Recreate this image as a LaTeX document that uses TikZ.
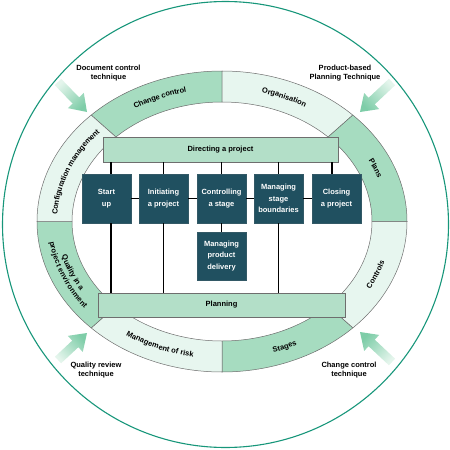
\documentclass[tikz,border=0pt]{standalone}
\usepackage{fontspec}
\setmainfont{Liberation Sans}
\usetikzlibrary{decorations.text,calc,shadows}

\definecolor{ringmed}{HTML}{A6DCC0}
\definecolor{ringlight}{HTML}{E7F6EF}
\definecolor{boxgreen}{HTML}{B3DFC8}
\definecolor{darkbox}{HTML}{205060}
\definecolor{circteal}{HTML}{17967A}
\definecolor{arrdark}{HTML}{7ECDA8}
\definecolor{arrlight}{HTML}{E4F5EC}
\definecolor{edgegray}{HTML}{6E6E6E}

\newcommand\lblfont{\bfseries\fontsize{7.5}{9}\selectfont}
\newcommand\boxfont{\bfseries\fontsize{7.5}{11.7}\selectfont}

\newcommand\ringseg[3]{%
  \draw[ringedge, fill=#3] (#1:185pt and 150.5pt)
    arc[start angle=#1, end angle=#2, x radius=185pt, y radius=150.5pt]
    -- (#2:150pt and 119.5pt)
    arc[start angle=#2, end angle=#1, x radius=150pt, y radius=119.5pt] -- cycle;}

\newcommand\ringtext[4]{%
  \path[decorate, decoration={text along path, text={|\lblfont|#4},
        text align=center, raise=#3}]
    (#1:167.5pt and 135pt)
    arc[start angle=#1, end angle=#2, x radius=167.5pt, y radius=135pt];}

\newcommand\techarrow[2]{%
  \coordinate (h#1) at ($(t#1)!16pt!(s#1)$);
  \shade[top color=arrdark, bottom color=arrlight, shading angle=#2]
    (t#1) -- ($(h#1)!11pt!90:(t#1)$) -- ($(h#1)!4.5pt!90:(t#1)$)
    -- ($(s#1)!4.5pt!90:(t#1)$) -- ($(s#1)!4.5pt!-90:(t#1)$)
    -- ($(h#1)!4.5pt!-90:(t#1)$) -- ($(h#1)!11pt!-90:(t#1)$) -- cycle;}

\tikzset{
  ringedge/.style={draw=edgegray, line width=0.5pt},
  greenbar/.style={draw=edgegray, fill=boxgreen, line width=0.5pt,
    font=\lblfont, inner sep=0pt,
    drop shadow={shadow xshift=1pt, shadow yshift=-1pt, opacity=0.3, fill=gray}},
  procbox/.style={draw=darkbox!80!gray, fill=darkbox, text=white, line width=0.4pt,
    font=\boxfont, align=center, inner sep=0pt,
    minimum width=49pt, minimum height=49pt},
  conn/.style={draw=black, line width=1.3pt},
  techlabel/.style={font=\lblfont, align=center, inner sep=0pt},
}

\begin{document}
\begin{tikzpicture}[x=1pt, y=1pt]
\useasboundingbox (0,0) rectangle (450,-450);

% outer circle
\draw[circteal, line width=1.1pt] (225.5,-224.5) circle[radius=223pt];

% ring
\begin{scope}[shift={(222,-221.5)}]
  \ringseg{90}{135}{ringmed}
  \ringseg{45}{90}{ringlight}
  \ringseg{0}{45}{ringmed}
  \ringseg{-45}{0}{ringlight}
  \ringseg{-90}{-45}{ringmed}
  \ringseg{-135}{-90}{ringlight}
  \ringseg{180}{225}{ringmed}
  \ringseg{135}{180}{ringlight}

  \ringtext{135}{90}{-2.6pt}{Change control}
  \ringtext{90}{45}{-2.6pt}{Organisation}
  \ringtext{45}{0}{-2.6pt}{Plans}
  \ringtext{-45}{0}{-2.6pt}{Controls}
  \ringtext{-90}{-45}{-2.6pt}{Stages}
  \ringtext{-135}{-90}{-2.6pt}{Management of risk}
  \ringtext{180}{135}{-2.6pt}{Configuration management}
  \ringtext{180}{225}{1.8pt}{Quality in a}
  \ringtext{180}{225}{-6.8pt}{project environment}
\end{scope}

% technique arrows
\coordinate (sTL) at (58,-82);  \coordinate (tTL) at (87,-112);
\coordinate (sTR) at (392,-82); \coordinate (tTR) at (360,-112);
\coordinate (sBL) at (58,-360); \coordinate (tBL) at (87,-333);
\coordinate (sBR) at (392,-362);\coordinate (tBR) at (360,-332);
\techarrow{TL}{-136}
\techarrow{TR}{133}
\techarrow{BL}{-47}
\techarrow{BR}{47}

% technique labels
\node[techlabel] (doc) at (108.5,-73.5) {Document control\\technique};
\node[techlabel] (pbp) at (345,-73.5) {Product-based\\Planning Technique};
\node[techlabel] (qrt) at (96,-370.5) {Quality review\\technique};
\node[techlabel] (cct) at (349,-370.5) {Change control\\technique};

% process boxes
\node[greenbar, minimum width=235pt, minimum height=25pt] (dir) at (220.5,-149.5) {Directing a project};
\node[greenbar, minimum width=247pt, minimum height=24pt] (plan) at (221.5,-305) {Planning};

\node[procbox] (su)  at (106.5,-198.5) {Start\\up};
\node[procbox] (ini) at (163.5,-198.5) {Initiating\\a project};
\node[procbox] (ctl) at (221.5,-198.5) {Controlling\\a stage};
\node[procbox] (msb) at (278.5,-198.5) {Managing\\stage\\boundaries};
\node[procbox] (clo) at (336.5,-198.5) {Closing\\a project};
\node[procbox, minimum height=48pt] (mpd) at (221.5,-256) {Managing\\product\\delivery};

% connectors
\coordinate (suT) at ([xshift=4.5pt]su.north);
\coordinate (suB) at ([xshift=4.5pt]su.south);
\coordinate (cloT) at ([xshift=-4.5pt]clo.north);
\draw[conn] (suT) -- (suT |- dir.south);
\draw[conn] (ini.north) -- (ini.north |- dir.south);
\draw[conn] (ctl.north) -- (ctl.north |- dir.south);
\draw[conn] (msb.north) -- (msb.north |- dir.south);
\draw[conn] (cloT) -- (cloT |- dir.south);

\draw[conn] (su.east) -- (ini.west);
\draw[conn] (ini.east) -- (ctl.west);
\draw[conn] (ctl.east) -- (msb.west);
\draw[conn] (msb.east) -- (clo.west);

\draw[conn] (ctl.south) -- (mpd.north);
\draw[conn] (suB) -- (suB |- plan.north);
\draw[conn] (ini.south) -- (ini.south |- plan.north);
\draw[conn] (msb.south) -- (msb.south |- plan.north);
\end{tikzpicture}
\end{document}
